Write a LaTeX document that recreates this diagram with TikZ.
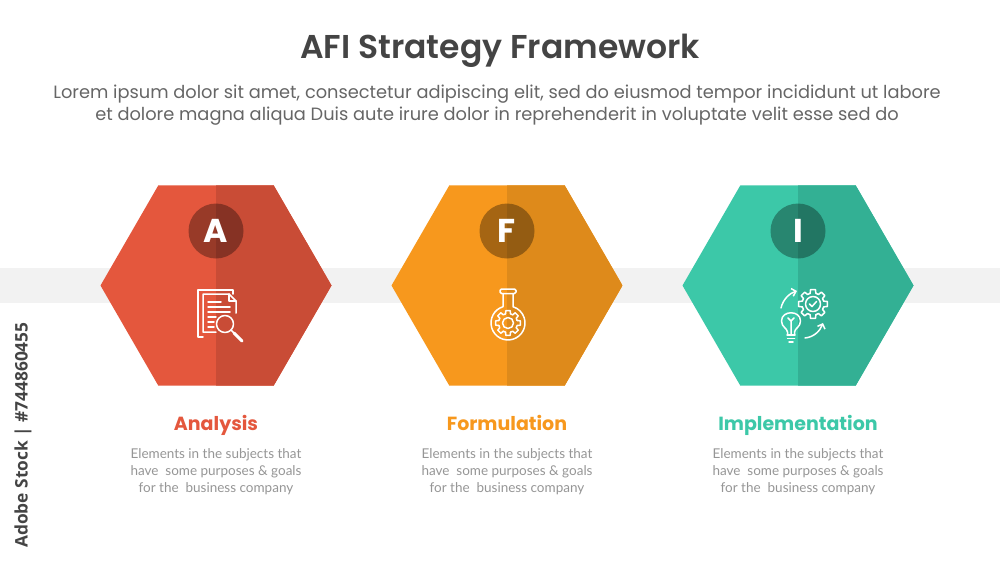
\documentclass[tikz,border=0pt]{standalone}
\usepackage{xcolor}
\usepackage{fontspec}
\setmainfont{Poppins}
\newfontfamily\titlefont{Poppins SemiBold}
\newfontfamily\latofont{Lato}
\newfontfamily\sidefont{Open Sans}
\definecolor{afired}{RGB}{228, 87, 61}
\definecolor{afireddark}{RGB}{201, 76, 54}
\definecolor{afiorange}{RGB}{247, 152, 29}
\definecolor{afiorangedark}{RGB}{222, 138, 27}
\definecolor{afigreen}{RGB}{60, 200, 168}
\definecolor{afigreendark}{RGB}{51, 176, 148}
\definecolor{afiband}{RGB}{242, 242, 242}
\definecolor{afititle}{RGB}{68, 68, 68}
\definecolor{afitext}{RGB}{102, 102, 102}
\definecolor{afidesc}{RGB}{150, 150, 150}
\usetikzlibrary{shapes.geometric,arrows.meta}
\tikzset{
    hexbox/.style 2 args={regular polygon, regular polygon sides=6, minimum size=231pt, inner sep=0pt, fill=#1,
        path picture={\fill[#2] (path picture bounding box.north) rectangle (path picture bounding box.south east);}},
    letterbox/.style={circle, minimum size=55pt, inner sep=0pt, fill=black, fill opacity=0.33, text opacity=1, text=white, font=\fontsize{33}{33}\selectfont\bfseries},
    headbox/.style={anchor=base, font=\fontsize{19}{19}\selectfont\bfseries},
    descbox/.style={align=center, text=afidesc, font=\latofont\fontsize{13.5}{17}\selectfont},
    iconline/.style={draw=white, line width=1.5pt, line cap=round, line join=round}
}
% gear: centre x, centre y, outer radius, root radius
\newcommand{\geardraw}[4]{
    \begin{scope}[shift={(#1,#2)}]
        \foreach \a in {0,45,...,315} {
            \draw[iconline] (\a-15:#4) -- (\a-10:#3) -- (\a+10:#3) -- (\a+15:#4) -- (\a+30:#4);
        }
    \end{scope}
}

\begin{document}
\begin{tikzpicture}[x=1pt, y=-1pt]
    \useasboundingbox (0,0) rectangle (1000,563);
    \fill[white] (0,0) rectangle (1000,563);
    \fill[afiband] (0,268) rectangle (1000,303);

    \node[text=afititle, font=\titlefont\fontsize{33}{33}\selectfont] (title) at (500,51) {AFI Strategy Framework};
    \node[text=afitext, font=\fontsize{17.8}{22}\selectfont, align=center] (subtitle) at (497,105) {Lorem ipsum dolor sit amet, consectetur adipiscing elit, sed do eiusmod tempor incididunt ut labore\\et dolore magna aliqua Duis aute irure dolor in reprehenderit in voluptate velit esse sed do};

    \node[hexbox={afired}{afireddark}] (analysis) at (216,285.5) {};
    \node[hexbox={afiorange}{afiorangedark}] (formulation) at (507,285.5) {};
    \node[hexbox={afigreen}{afigreendark}] (implementation) at (798,285.5) {};

    \node[letterbox] (lettera) at (216,231) {A};
    \node[letterbox] (letterf) at (507,231) {F};
    \node[letterbox] (letteri) at (798,231) {I};

    \node[headbox, text=afired] (heada) at (216,430) {Analysis};
    \node[headbox, text=afiorange] (headf) at (507,430) {Formulation};
    \node[headbox, text=afigreen] (headi) at (798,430) {Implementation};

    \node[descbox] (desca) at (216,472) {Elements in the subjects that\\have\ \ some purposes \& goals\\for the\ \ business company};
    \node[descbox] (descf) at (507,472) {Elements in the subjects that\\have\ \ some purposes \& goals\\for the\ \ business company};
    \node[descbox] (desci) at (798,472) {Elements in the subjects that\\have\ \ some purposes \& goals\\for the\ \ business company};

    \node[rotate=90, text=afititle, font=\sidefont\bfseries\fontsize{17.3}{20}\selectfont] (stock) at (23,435) {Adobe Stock | \#744860455};

    % document and magnifier
    \begin{scope}[shift={(216,285)}]
        \draw[iconline] (-13,52) -- (-18,52) -- (-18,5) -- (17,5) -- (17,9);
        \draw[iconline] (0,47) -- (-13,47) -- (-13,9) -- (13,9) -- (20,16) -- (20,28);
        \draw[iconline] (13,9) -- (13,16) -- (20,16);
        \draw[iconline] (-8,17) -- (5,17);
        \draw[iconline] (-8,22) -- (14,22);
        \draw[iconline] (-8,27) -- (14,27);
        \draw[iconline] (-8,32) -- (0,32);
        \draw[iconline] (-8,37) -- (-2,37);
        \draw[iconline] (-8,42) -- (-2,42);
        \draw[iconline] (9,39) circle[radius=8.5];
        \draw[iconline] (15,45) -- (18,48);
        \draw[iconline, line width=3pt] (18,48) -- (26,56);
    \end{scope}

    % flask and gear
    \begin{scope}[shift={(507,285)}]
        \draw[iconline, rounded corners=1.5pt] (-7,4) rectangle (9,8.5);
        \draw[iconline] (-4,8.5) -- (-4,21.7) arc[start angle=252.9, end angle=-72.9, radius=17] -- (6,8.5);
        \geardraw{1}{38}{12.5}{9.5}
        \draw[iconline] (1,38) circle[radius=5.5];
    \end{scope}

    % bulb, gear and arrows
    \begin{scope}[shift={(798,285)}]
        \geardraw{15}{19}{14.5}{11}
        \draw[iconline] (15,19) circle[radius=7.5];
        \draw[iconline] (11.5,19) -- (14,21.5) -- (18.5,16.5);
        \draw[iconline] (-10.5,49.5) -- (-10.5,47) .. controls (-11,43) and (-16.5,42) .. (-16.5,36) .. controls (-16.5,25) and (2.5,25) .. (2.5,36) .. controls (2.5,42) and (-3,43) .. (-3.5,47) -- (-3.5,49.5);
        \draw[iconline] (-11,50) -- (-3,50);
        \draw[iconline] (-10.5,53.5) -- (-3.5,53.5);
        \draw[iconline] (-9,57) -- (-5,57);
        \draw[iconline] (-7,49) -- (-7,36) (-10,33) -- (-7,36) -- (-4,33);
        \draw[iconline, -{Straight Barb[length=4pt,width=8pt]}] (-17,23) .. controls (-15,14) and (-8,8) .. (-1,6);
        \draw[iconline, -{Straight Barb[length=4pt,width=8pt]}] (7,53) .. controls (16,52) and (22,46) .. (25,38);
    \end{scope}
\end{tikzpicture}
\end{document}
